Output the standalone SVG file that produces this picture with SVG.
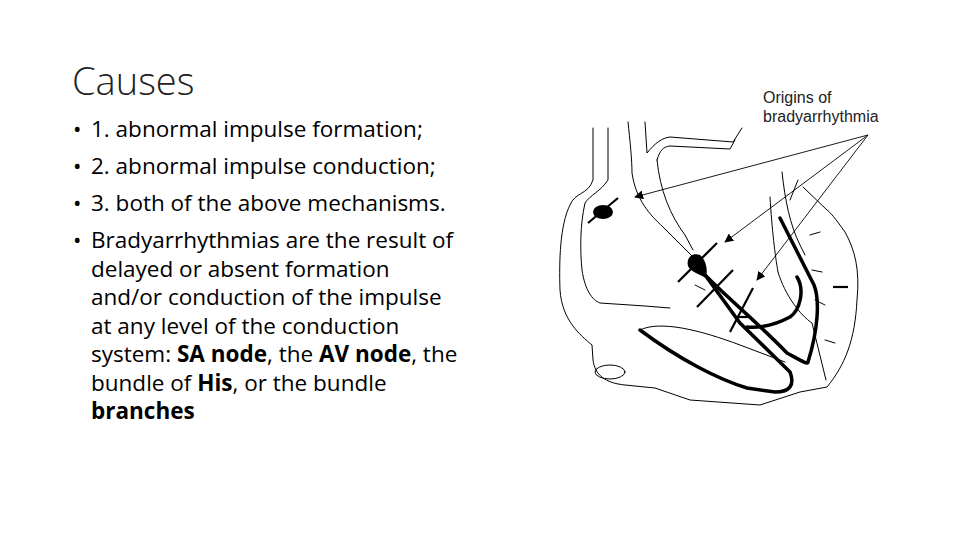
<svg xmlns="http://www.w3.org/2000/svg" width="960" height="540" viewBox="0 0 960 540">
<style>
.t{font-family:"Open Sans","Liberation Sans",sans-serif;font-size:22.5px;fill:#000}
.h{stroke:#000;fill:none;stroke-width:1;stroke-linecap:round;stroke-linejoin:round}
.k{stroke:#000;fill:none;stroke-width:3.5;stroke-linecap:round}
.m{stroke:#000;fill:none;stroke-width:2.2}
.a{stroke:#000;stroke-width:0.9;fill:none;marker-end:url(#ar)}
</style>
<defs><marker id="ar" viewBox="0 0 10 10" refX="9" refY="5" markerWidth="9" markerHeight="9" orient="auto" markerUnits="userSpaceOnUse"><path d="M0,0L10,5L0,10z" fill="#000"/></marker></defs>
<rect width="960" height="540" fill="#fff"/>
<g id="title"><text x="72" y="95" font-family="'Open Sans','Liberation Sans',sans-serif" font-size="38" font-weight="300" fill="#222">Causes</text></g>
<g id="bullets" class="t">
<text x="73" y="137">•</text><text x="91" y="137">1. abnormal impulse formation;</text>
<text x="73" y="174">•</text><text x="91" y="174">2. abnormal impulse conduction;</text>
<text x="73" y="211">•</text><text x="91" y="211">3. both of the above mechanisms.</text>
<text x="73" y="248">•</text><text x="91" y="248">Bradyarrhythmias are the result of</text>
<text x="91" y="277">delayed or absent formation</text>
<text x="91" y="305">and/or conduction of the impulse</text>
<text x="91" y="334">at any level of the conduction</text>
<text x="91" y="362">system: <tspan font-weight="bold">SA node</tspan>, the <tspan font-weight="bold">AV node</tspan>, the</text>
<text x="91" y="391">bundle of <tspan font-weight="bold">His</tspan>, or the bundle</text>
<text x="91" y="419" font-weight="bold">branches</text>
</g>
<g id="label" font-family="'Liberation Sans',Arial,sans-serif" font-size="16" fill="#222">
<text x="763" y="103">Origins of</text><text x="763" y="122">bradyarrhythmia</text>
</g>
<g id="heart">
<path class="h" d="M593,128 L593,180 C588,195 575,192 570,205 C560,225 559,260 560,290 C562,320 580,335 592,345 L593,360 C595,375 605,383 625,385 L655,388 L690,400 L760,405 L800,392 L827,387 C845,365 855,340 857,300 C860,270 855,250 845,232 C835,218 830,212 827,210 L803,187"/>
<path class="h" d="M608,128 L608,180 C600,192 590,195 585,203 C580,225 580,250 582,270 C585,290 592,300 600,303 L645,306 L670,308"/>
<ellipse class="h" cx="610" cy="372" rx="15" ry="7"/>
<path class="h" d="M628,122 C630,140 632,160 632,173 C636,200 650,215 663,227 L693,257"/>
<path class="h" d="M645,122 L647,153 C655,143 662,138 670,137 L733,142 L742,128"/>
<path class="h" d="M657,160 C660,150 663,147 670,146 L730,149 L735,140"/>
<path class="h" d="M657,160 C660,190 670,215 685,235 L693,250"/>
<path class="h" d="M640,330 C660,320 700,330 740,345 L785,362"/>
<path class="h" d="M770,197 C772,230 775,255 778,272 C785,295 800,315 812,323 L826,380"/>
<path class="h" d="M782,172 C785,200 790,225 800,245 L805,255 M790,200 L798,180 M810,235 L820,232 M812,270 L822,272 M815,300 L825,305 M825,340 L835,343"/>
<path class="h" d="M700,272 L710,278 M695,285 L705,290"/>
</g>
<g id="conduction">
<ellipse cx="603" cy="212" rx="10" ry="7" fill="#000"/>
<line class="m" x1="618" y1="198" x2="588" y2="223"/>
<path d="M688,266 C686,258 692,252 700,255 C706,260 708,270 706,278 L700,275 C694,272 690,270 688,266z" fill="#000"/>
<path class="k" d="M700,268 L740,323 L790,372 C795,385 790,392 775,392 L747,388 C720,380 680,360 640,330"/>
<path class="k" d="M706,276 C730,300 760,325 787,353 C800,360 808,365 808,362 C818,330 820,300 814,285 L780,218"/>
<path class="k" d="M797,277 C805,290 800,310 790,317 C775,325 760,328 747,327"/>
<line class="m" x1="678" y1="282" x2="717" y2="243"/>
<line class="m" x1="697" y1="307" x2="733" y2="270"/>
<line class="m" x1="730" y1="332" x2="753" y2="288"/>
<line class="m" x1="738" y1="317" x2="748" y2="317"/>
<line class="m" x1="833" y1="287" x2="848" y2="287"/>
</g>
<g id="connectors">
<line class="a" x1="868" y1="135" x2="635" y2="197"/>
<line class="a" x1="868" y1="135" x2="725" y2="242"/>
<line class="a" x1="868" y1="135" x2="757" y2="280"/>
</g>
</svg>
